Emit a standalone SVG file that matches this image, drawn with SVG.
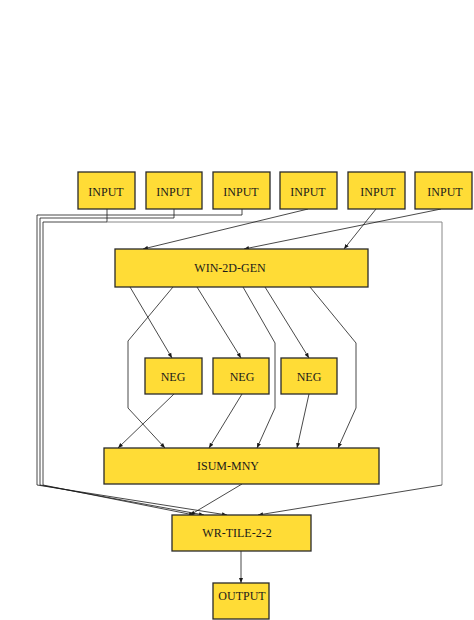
<svg xmlns="http://www.w3.org/2000/svg" width="474" height="620" viewBox="0 0 474 620">
<style>
.box{fill:#FFDC36;stroke:#2a2a2a;stroke-width:1.3}
.lbl{font-family:"Liberation Serif","Times New Roman",serif;font-size:12px;fill:#1a1a1a;text-anchor:middle}
.e{fill:none;stroke:#1a1a1a;stroke-width:0.8}
.g{fill:none;stroke:#888;stroke-width:1}
</style>
<defs>
<marker id="ah" viewBox="0 0 10 10" refX="10" refY="5" markerWidth="5" markerHeight="5" orient="auto" markerUnits="userSpaceOnUse">
<path d="M0,1 L10,5 L0,9 z" fill="#1a1a1a"/>
</marker>
</defs>
<rect width="474" height="620" fill="#fff"/>
<g id="connectors">
<!-- inputs to WR-TILE via left -->
<polyline class="e" points="242,209 242,215 37,215 37,485 227,515" marker-end="url(#ah)"/>
<polyline class="e" points="174,209 174,218 40,218 40,485 204,515" marker-end="url(#ah)"/>
<polyline class="e" points="107,209 107,222 43,222 43,485 194,515" marker-end="url(#ah)"/>
<!-- input1 to WR-TILE via right -->
<polyline class="g" points="107,222 442,222 442,485"/>
<polyline class="e" points="442,485 258,515" marker-end="url(#ah)"/>
<!-- inputs to WIN-2D-GEN -->
<line class="e" x1="308" y1="209" x2="143" y2="249" marker-end="url(#ah)"/>
<line class="e" x1="441" y1="209" x2="244" y2="249" marker-end="url(#ah)"/>
<line class="e" x1="376" y1="209" x2="344" y2="249" marker-end="url(#ah)"/>
<!-- WIN to NEG -->
<line class="e" x1="130" y1="287" x2="172" y2="358" marker-end="url(#ah)"/>
<line class="e" x1="197" y1="287" x2="241" y2="358" marker-end="url(#ah)"/>
<line class="e" x1="265" y1="287" x2="309" y2="358" marker-end="url(#ah)"/>
<!-- WIN to ISUM -->
<polyline class="e" points="173,287 128,341 128,408 165,448" marker-end="url(#ah)"/>
<polyline class="e" points="243,287 275,343 275,408 257,448" marker-end="url(#ah)"/>
<polyline class="e" points="310,287 356,343 356,408 338,448" marker-end="url(#ah)"/>
<!-- NEG to ISUM -->
<line class="e" x1="174" y1="394" x2="118" y2="448" marker-end="url(#ah)"/>
<line class="e" x1="242" y1="394" x2="209" y2="448" marker-end="url(#ah)"/>
<line class="e" x1="309" y1="394" x2="297" y2="448" marker-end="url(#ah)"/>
<!-- ISUM to WR-TILE -->
<line class="e" x1="242" y1="484" x2="190" y2="515" marker-end="url(#ah)"/>
<!-- WR-TILE to OUTPUT -->
<line class="e" x1="241" y1="551" x2="241" y2="583" marker-end="url(#ah)"/>
</g>
<g id="input1"><rect class="box" x="78" y="172" width="57" height="37"/><text class="lbl" x="106" y="196">INPUT</text></g>
<g id="input2"><rect class="box" x="146" y="172" width="56" height="37"/><text class="lbl" x="174" y="196">INPUT</text></g>
<g id="input3"><rect class="box" x="213" y="172" width="57" height="37"/><text class="lbl" x="241" y="196">INPUT</text></g>
<g id="input4"><rect class="box" x="280" y="172" width="57" height="37"/><text class="lbl" x="308" y="196">INPUT</text></g>
<g id="input5"><rect class="box" x="348" y="172" width="57" height="37"/><text class="lbl" x="378" y="196">INPUT</text></g>
<g id="input6"><rect class="box" x="415" y="172" width="57" height="37"/><text class="lbl" x="445" y="196">INPUT</text></g>
<g id="win2dgen"><rect class="box" x="115" y="249" width="253" height="38"/><text class="lbl" x="230" y="272">WIN-2D-GEN</text></g>
<g id="neg1"><rect class="box" x="145" y="358" width="57" height="36"/><text class="lbl" x="173" y="381">NEG</text></g>
<g id="neg2"><rect class="box" x="213" y="358" width="56" height="36"/><text class="lbl" x="242" y="381">NEG</text></g>
<g id="neg3"><rect class="box" x="281" y="358" width="56" height="36"/><text class="lbl" x="309" y="381">NEG</text></g>
<g id="isum"><rect class="box" x="104" y="448" width="275" height="36"/><text class="lbl" x="228" y="470">ISUM-MNY</text></g>
<g id="wrtile"><rect class="box" x="172" y="515" width="139" height="36"/><text class="lbl" x="237" y="537">WR-TILE-2-2</text></g>
<g id="output"><rect class="box" x="213" y="583" width="56" height="36"/><text class="lbl" x="242" y="600">OUTPUT</text></g>
</svg>
